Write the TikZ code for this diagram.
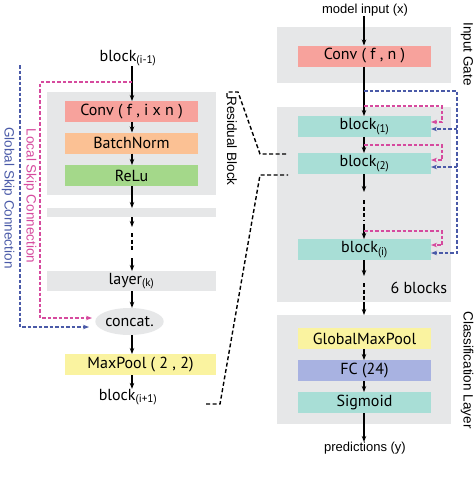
\documentclass[tikz,border=0pt]{standalone}
\usepackage{fontspec}
\setmainfont{PT Sans}
\newfontfamily\helv{Liberation Sans}
\usetikzlibrary{arrows.meta,shapes.geometric}
\definecolor{graybg}{RGB}{230,231,232}
\definecolor{convc}{RGB}{247,162,156}
\definecolor{bnc}{RGB}{251,193,148}
\definecolor{reluc}{RGB}{164,216,138}
\definecolor{yelc}{RGB}{250,243,160}
\definecolor{fcc}{RGB}{168,178,225}
\definecolor{tealc}{RGB}{168,222,214}
\definecolor{pinkc}{RGB}{214,74,158}
\definecolor{bluec}{RGB}{74,90,168}
\tikzset{
  bg/.style={fill=graybg, draw=none, inner sep=0pt, outer sep=0pt},
  box/.style={draw=none, inner sep=0pt, outer sep=0pt, minimum width=133pt, minimum height=21pt, font=\fontsize{16}{18}\selectfont},
  plain/.style={inner sep=0pt, outer sep=0pt, font=\fontsize{16}{18}\selectfont},
  lbl/.style={inner sep=0pt, outer sep=0pt, font=\helv\fontsize{13}{15}\selectfont},
  side/.style={inner sep=0pt, outer sep=0pt, font=\helv\fontsize{13.5}{15}\selectfont, rotate=-90},
  arr/.style={-{Stealth[length=6pt,width=4.5pt]}, line width=1.3pt, black},
  dline/.style={line width=1.4pt, black, dash pattern=on 4pt off 2.5pt},
  pinkskip/.style={line width=1.3pt, pinkc, dash pattern=on 3.5pt off 2pt},
  blueskip/.style={line width=1.3pt, bluec, dash pattern=on 3.5pt off 2pt},
  skiparr/.style={-{Stealth[length=6pt,width=4.5pt]}},
}
\begin{document}
\begin{tikzpicture}[x=1pt,y=-1pt]
\useasboundingbox[fill=white] (0,0) rectangle (474,482);
% ---------- left panel ----------
\node[bg, minimum width=169pt, minimum height=103pt] (resbg) at (131.5,143.5) {};
\node[bg, minimum width=169pt, minimum height=9pt] (strip) at (131.5,212.5) {};
\node[bg, minimum width=169pt, minimum height=20pt, font=\fontsize{16}{18}\selectfont] (layer) at (131.5,281) {layer\textsubscript{(k)}};
\node[plain] (bim1) at (128,58) {block\textsubscript{(i-1)}};
\node[box, fill=convc] (conv1) at (131.5,111.5) {Conv ( f , i x n )};
\node[box, fill=bnc] (bn) at (131.5,143) {BatchNorm};
\node[box, fill=reluc] (relu) at (131.5,175.5) {ReLu};
\node[ellipse, fill=graybg, inner sep=0pt, minimum width=65pt, minimum height=27pt, font=\fontsize{16}{18}\selectfont] (concat) at (129.5,321.5) {concat.};
\node[box, fill=yelc, minimum width=151pt] (maxpool) at (140.5,364.5) {MaxPool ( 2 , 2)};
\node[plain] (bip1) at (128,397) {block\textsubscript{(i+1)}};
\node[side] (reslbl) at (232,141) {Residual Block};
\node[side, text=pinkc] (localbl) at (30,196) {Local Skip Connection};
\node[side, text=bluec] (globlbl) at (8,198) {Global Skip Connection};

\coordinate (la1) at (132,227);
\coordinate (la2) at (132,233);
\coordinate (la3) at (132,250);
\coordinate (la4) at (132,258);
\draw[arr] (bim1.south -| 132,0) -- (conv1.north -| 132,0);
\draw[arr] (conv1.south -| 132,0) -- (bn.north -| 132,0);
\draw[arr] (bn.south -| 132,0) -- (relu.north -| 132,0);
\draw[arr] (relu.south -| 132,0) -- (strip.north -| 132,0);
\draw[arr] (strip.south -| 132,0) -- (la1);
\draw[dline] (la2) -- (la3);
\draw[arr] (la4) -- (layer.north -| 132,0);
\draw[arr] (layer.south -| 132,0) -- (concat.north -| 132,0);
\draw[arr] (concat.south -| 132,0) -- (maxpool.north -| 132,0);
\draw[arr] (maxpool.south -| 132,0) -- (bip1.north -| 132,0);

% left skip connections
\coordinate (ps) at (132,82);
\coordinate (pe) at (92,318);
\draw[pinkskip, skiparr] (ps) -- (40,82) -- (40,318) -- (pe);
\coordinate (bs) at (20,65);
\coordinate (be) at (89,327);
\draw[blueskip, skiparr] (bs) -- (20,327) -- (be);

% ---------- right panel ----------
\node[bg, minimum width=174pt, minimum height=56pt] (gatebg) at (364,55) {};
\node[bg, minimum width=174pt, minimum height=195pt] (blocksbg) at (364,204.5) {};
\node[bg, minimum width=174pt, minimum height=109pt] (clsbg) at (364,369.5) {};
\node[lbl] (minput) at (365,10) {model input (x)};
\node[box, fill=convc] (conv0) at (364.5,56) {Conv ( f , n )};
\node[box, fill=tealc] (b1) at (364.5,126.5) {block\textsubscript{(1)}};
\node[box, fill=tealc] (b2) at (364.5,163.5) {block\textsubscript{(2)}};
\node[box, fill=tealc] (bi) at (364.5,249.5) {block\textsubscript{(i)}};
\node[plain, anchor=east] (six) at (447,288) {6 blocks};
\node[box, fill=yelc] (gmp) at (364.5,338.5) {GlobalMaxPool};
\node[box, fill=fcc] (fc) at (364.5,370.5) {FC (24)};
\node[box, fill=tealc] (sig) at (364.5,402.5) {Sigmoid};
\node[lbl] (pred) at (365,448) {predictions (y)};
\node[side] (gatelbl) at (467,54) {Input Gate};
\node[side] (clslbl) at (467,370) {Classification Layer};

\draw[arr] (minput.south -| 364,0) -- (conv0.north -| 364,0);
\draw[arr] (conv0.south -| 364,0) -- (b1.north -| 364,0);
\draw[arr] (b1.south -| 364,0) -- (b2.north -| 364,0);
\coordinate (ra1) at (364,192);
\coordinate (ra2) at (364,200);
\coordinate (ra3) at (364,220);
\coordinate (ra4) at (364,224);
\draw[arr] (b2.south -| 364,0) -- (ra1);
\draw[dline] (ra2) -- (ra3);
\draw[arr] (ra4) -- (bi.north -| 364,0);
\coordinate (rb1) at (364,276);
\coordinate (rb2) at (364,283);
\coordinate (rb3) at (364,300);
\coordinate (rb4) at (364,302);
\draw[arr] (bi.south -| 364,0) -- (rb1);
\draw[dline] (rb2) -- (rb3);
\draw[arr] (rb4) -- (clsbg.north -| 364,0);
\draw[arr] (gmp.south -| 364,0) -- (fc.north -| 364,0);
\draw[arr] (fc.south -| 364,0) -- (sig.north -| 364,0);
\draw[arr] (sig.south -| 364,0) -- (pred.north -| 364,0);

% right skip connections
\draw[pinkskip, skiparr] (364,106) -- (442,106) -- (442,122) -- (b1.east |- 0,122);
\draw[pinkskip, skiparr] (364,145) -- (442,145) -- (442,160) -- (b2.east |- 0,160);
\draw[pinkskip, skiparr] (364,231) -- (442,231) -- (442,245) -- (bi.east |- 0,245);
\draw[blueskip, skiparr] (364,91) -- (457,91) -- (457,253) -- (bi.east |- 0,253);
\draw[blueskip, skiparr] (457,129) -- (b1.east |- 0,129);
\draw[blueskip, skiparr] (457,167) -- (b2.east |- 0,167);

% zoom connectors
\coordinate (z1) at (227,97);
\coordinate (z2) at (288,154);
\draw[dline] (z1) -- (227,92) -- (238,92) -- (260,154) -- (z2);
\coordinate (z3) at (206,404);
\coordinate (z4) at (288,175);
\draw[dline] (z3) -- (220,404) -- (260,175) -- (z4);
\end{tikzpicture}
\end{document}
